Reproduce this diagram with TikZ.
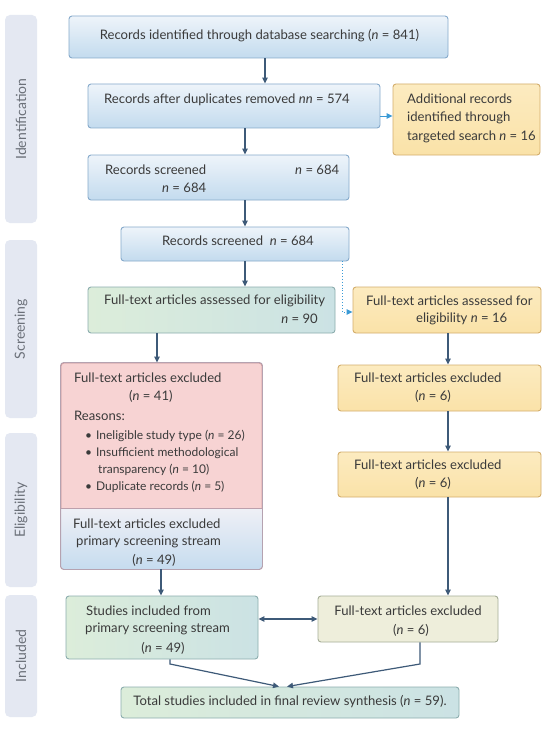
\documentclass[tikz,border=0pt]{standalone}
\usepackage{fontspec}
\setmainfont{Lato}
\usetikzlibrary{arrows.meta,calc}
\definecolor{bluetop}{HTML}{EEF4FA}
\definecolor{bluebot}{HTML}{C3DBEE}
\definecolor{blueedge}{HTML}{86AACB}
\definecolor{orfill}{HTML}{FAE2A8}
\definecolor{ortop}{HTML}{FCEBC0}
\definecolor{oredge}{HTML}{D4AE6C}
\definecolor{grleft}{HTML}{DCEDDA}
\definecolor{grright}{HTML}{CBE2E4}
\definecolor{gredge}{HTML}{8CADAE}
\definecolor{pinkfill}{HTML}{F7D3D3}
\definecolor{pinkedge}{HTML}{D49C9E}
\definecolor{lowtop}{HTML}{EFF0F6}
\definecolor{lowbot}{HTML}{C6DCEF}
\definecolor{beige}{HTML}{EEEEDB}
\definecolor{beigeedge}{HTML}{A5AD97}
\definecolor{sidefill}{HTML}{E4E8F2}
\definecolor{sidetext}{HTML}{6B7079}
\definecolor{txtcol}{HTML}{3A3A3A}
\definecolor{arrcol}{HTML}{3E5A78}
\definecolor{arrblue}{HTML}{3A9AD6}
\newcommand{\nn}{\textit{n}}
\newcommand{\bx}[6]{\node[#6, minimum width=#4pt, minimum height=#5pt] (#1) at (#2,#3) {};}
\tikzset{
  boxbase/.style={draw, rounded corners=3pt, line width=0.9pt, inner sep=0pt},
  bluebox/.style={boxbase, draw=blueedge, top color=bluetop, bottom color=bluebot},
  orbox/.style={boxbase, draw=oredge, top color=ortop, bottom color=orfill},
  grbox/.style={boxbase, draw=gredge, left color=grleft, right color=grright},
  pinkbox/.style={boxbase, draw=pinkedge, fill=pinkfill},
  beigebox/.style={boxbase, draw=beigeedge, fill=beige},
  sidebox/.style={fill=sidefill, rounded corners=5pt, inner sep=0pt},
  sidelab/.style={rotate=90, text=sidetext, inner sep=0pt, font=\fontsize{14}{16}\selectfont},
  txt/.style={inner sep=0pt, anchor=west, text=txtcol, font=\fontsize{13.1}{15}\selectfont},
  ctxt/.style={txt, anchor=center},
  stxt/.style={txt, font=\fontsize{12}{14}\selectfont},
  arr/.style={draw=arrcol, line width=1.2pt, -{Triangle[length=6pt,width=5.5pt]}},
  darr/.style={draw=arrcol, line width=1.2pt, {Triangle[length=6pt,width=5.5pt]}-{Triangle[length=6pt,width=5.5pt]}},
  barr/.style={draw=arrblue, line width=0.9pt, -{Triangle[length=6pt,width=5.5pt]}},
  dotarr/.style={draw=arrblue, line width=0.9pt, dotted, -{Triangle[length=6pt,width=5.5pt]}}
}
\begin{document}
\begin{tikzpicture}[x=1pt,y=-1pt]
\useasboundingbox (0,0) rectangle (550,741);
\fill[white] (0,0) rectangle (550,741);
% side labels
\bx{s1}{21}{119}{32}{208}{sidebox}
\bx{s2}{21}{329}{32}{178}{sidebox}
\bx{s3}{21}{510}{32}{154}{sidebox}
\bx{s4}{21}{656}{32}{122}{sidebox}
\node[sidelab] (l1) at (s1) {Identification};
\node[sidelab] (l2) at (s2) {Screening};
\node[sidelab] (l3) at (s3) {Eligibility};
\node[sidelab] (l4) at (s4) {Included};
% boxes
\bx{b1}{258.5}{37}{379}{42}{bluebox}
\bx{b2}{234}{106}{292}{44}{bluebox}
\bx{b3}{466.5}{119.5}{147}{71}{orbox}
\bx{b4}{218.5}{177.5}{261}{45}{bluebox}
\bx{b5}{235}{244}{228}{34}{bluebox}
\bx{b6}{211.5}{310}{247}{46}{grbox}
\bx{b7}{447}{310}{188}{46}{orbox}
\bx{b8}{161.5}{466}{201}{206}{pinkbox}
\path[top color=lowtop, bottom color=lowbot] (61,508) -- (262,508) [rounded corners=3pt] -- (262,569) -- (61,569) [sharp corners] -- cycle;
\draw[pinkedge!70!blueedge, line width=0.5pt] (61,508) -- (262,508);
\draw[draw=pinkedge!60!blueedge, rounded corners=3pt, line width=0.9pt] (b8.north west) rectangle (b8.south east);
\bx{b9}{439.5}{388}{203}{46}{orbox}
\bx{b10}{439.5}{474.5}{203}{45}{orbox}
\bx{b11}{162}{627.5}{192}{63}{grbox}
\bx{b12}{408}{619}{180}{46}{beigebox}
\bx{b13}{290}{702.5}{338}{31}{grbox}
% texts
\node[ctxt] (t1) at (259.5,36) {Records identified through database searching (\nn{} = 841)};
\node[txt] (t2) at (104,100) {Records after duplicates removed \nn\nn{} = 574};
\node[txt] (t3a) at (407,99) {Additional records};
\node[txt] (t3b) at (407,118) {identified through};
\node[txt] (t3c) at (407,137) {targeted search \nn{} = 16};
\node[txt] (t4a) at (105,170) {Records screened};
\node[txt] (t4b) at (295,170) {\nn{} = 684};
\node[txt] (t4c) at (162,188) {\nn{} = 684};
\node[ctxt] (t5) at (238,241) {Records screened~~\nn{} = 684};
\node[txt] (t6a) at (104,301) {Full-text articles assessed for eligibility};
\node[txt, anchor=east] (t6b) at (318,319) {\nn{} = 90};
\node[txt] (t7a) at (366,301) {Full-text articles assessed for};
\node[txt] (t7b) at (416,319) {eligibility \nn{} = 16};
\node[txt] (t8a) at (74,378) {Full-text articles excluded};
\node[txt] (t8b) at (129,396) {(\nn{} = 41)};
\node[txt] (t8c) at (74,416) {Reasons:};
\node[stxt] (t8d) at (85,436) {\textbullet\hspace{4pt}Ineligible study type (\nn{} = 26)};
\node[stxt] (t8e) at (85,453) {\textbullet\hspace{4pt}Insufficient methodological};
\node[stxt] (t8f) at (98,470) {transparency (\nn{} = 10)};
\node[stxt] (t8g) at (85,487) {\textbullet\hspace{4pt}Duplicate records (\nn{} = 5)};
\node[txt] (t8h) at (73,524) {Full-text articles excluded};
\node[txt] (t8i) at (76,542) {primary screening stream};
\node[ctxt] (t8j) at (154,560) {(\nn{} = 49)};
\node[txt] (t9a) at (354,378) {Full-text articles excluded};
\node[ctxt] (t9b) at (433,396) {(\nn{} = 6)};
\node[txt] (t10a) at (354,465) {Full-text articles excluded};
\node[ctxt] (t10b) at (433,483) {(\nn{} = 6)};
\node[txt] (t11a) at (86,611) {Studies included from};
\node[txt] (t11b) at (85,629) {primary screening stream};
\node[ctxt] (t11c) at (163,648) {(\nn{} = 49)};
\node[ctxt] (t12a) at (408,611) {Full-text articles excluded};
\node[ctxt] (t12b) at (411,630) {(\nn{} = 6)};
\node[ctxt] (t13) at (290,702) {Total studies included in final review synthesis (\nn{} = 59).};
% connectors
\draw[arr] ([xshift=6.5pt]b1.south) -- ([xshift=6.5pt]b1.south |- b2.north);
\draw[arr] ([xshift=11pt]b2.south) -- ([xshift=11pt]b2.south |- b4.north);
\draw[arr] ([xshift=26.5pt]b4.south) -- ([xshift=26.5pt]b4.south |- b5.north);
\draw[arr] ([xshift=10pt]b5.south) -- ([xshift=10pt]b5.south |- b6.north);
\draw[barr] ([yshift=-10pt]b2.east) -- ([yshift=-10pt]b2.east -| b3.west);
\coordinate (dc) at ([xshift=-7pt]b5.south east |- 0,312);
\draw[dotarr] ([xshift=-7pt]b5.south east) -- (dc) -- (dc -| b7.west);
\draw[arr] ([xshift=-54.5pt]b6.south) -- ([xshift=-54.5pt]b6.south |- b8.north);
\draw[arr] ([xshift=1pt]b7.south) -- ([xshift=1pt]b7.south |- b9.north);
\draw[arr] ([xshift=8.5pt]b9.south) -- ([xshift=8.5pt]b9.south |- b10.north);
\draw[arr] ([xshift=8.5pt]b10.south) -- ([xshift=8.5pt]b10.south |- b12.north);
\draw[arr] ([xshift=-0.5pt]b8.south) -- ([xshift=-0.5pt]b8.south |- b11.north);
\draw[darr] (b11.east |- b12.west) -- (b12.west);
\coordinate (j1) at ([xshift=8pt]b11.south |- 0,664);
\coordinate (j2) at ([xshift=12pt]b12.south |- 0,664);
\draw[arr] ([xshift=8pt]b11.south) -- (j1) -- ([xshift=-11pt]b13.north);
\draw[arr] ([xshift=12pt]b12.south) -- (j2) -- ([xshift=-3pt]b13.north);
\end{tikzpicture}
\end{document}
